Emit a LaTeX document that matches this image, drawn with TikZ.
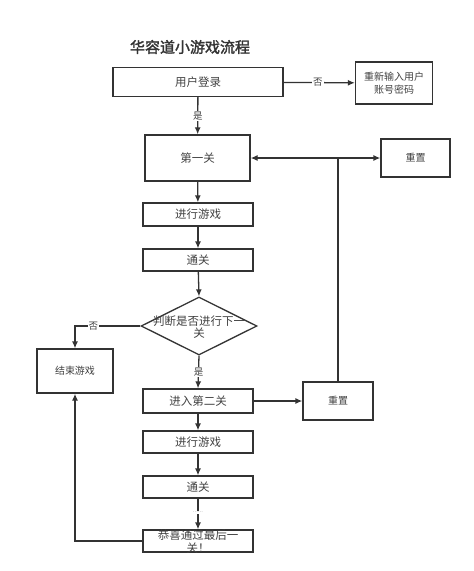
\documentclass[tikz,border=0pt]{standalone}
\usepackage{fontspec}
\setmainfont{Noto Sans CJK SC}
\newfontfamily\titlefont[FakeBold=2]{Noto Sans CJK SC}
\usetikzlibrary{shapes.geometric,arrows.meta}
\definecolor{linec}{HTML}{333333}
\definecolor{textc}{HTML}{404040}
\begin{document}
\begin{tikzpicture}[x=1pt,y=-1pt,
  box/.style={draw=linec, line width=1.3pt, rectangle, inner sep=0pt, text=textc, font=\fontsize{11.5}{13}\selectfont, align=center},
  dia/.style={draw=linec, line width=1.3pt, diamond, inner sep=0pt, minimum width=116pt, minimum height=58pt},
  txt/.style={text=textc, font=\fontsize{11.5}{13}\selectfont, align=center, inner sep=0pt},
  arr/.style={draw=linec, line width=1.3pt, -{Latex[length=7pt,width=6pt]}},
  ln/.style={draw=linec, line width=1.3pt},
  lbl/.style={fill=white, text=textc, font=\fontsize{9.5}{10}\selectfont, inner sep=1pt}]
\path[use as bounding box] (0,0) rectangle (474,571);

\node[text=black!80, font=\titlefont\fontsize{15}{17}\selectfont] (title) at (190,47) {华容道小游戏流程};

\node[box, minimum width=170pt, minimum height=29pt] (login) at (198,82) {用户登录};
\node[box, minimum width=77pt, minimum height=42pt, font=\fontsize{10}{12.5}\selectfont] (reinput) at (394,83) {重新输入用户\\账号密码};
\node[box, minimum width=105pt, minimum height=46pt] (first) at (197.5,158) {第一关};
\node[box, minimum width=69pt, minimum height=38pt, font=\fontsize{10}{12}\selectfont] (reset1) at (415.5,158) {重置};
\node[box, minimum width=110pt, minimum height=23pt] (play1) at (198,214.5) {进行游戏};
\node[box, minimum width=110pt, minimum height=22pt] (pass1) at (198,260) {通关};
\node[dia] (judge) at (199,326) {};
\node[txt, font=\fontsize{11.5}{11.5}\selectfont] (judget) at (199,327) {判断是否进行下一\\关};
\node[box, minimum width=76pt, minimum height=44pt, font=\fontsize{10}{12}\selectfont] (end) at (75,371) {结束游戏};
\node[box, minimum width=110pt, minimum height=24pt] (second) at (198,401) {进入第二关};
\node[box, minimum width=70pt, minimum height=38pt, font=\fontsize{10}{12}\selectfont] (reset2) at (338,401) {重置};
\node[box, minimum width=110pt, minimum height=22pt] (play2) at (198,442) {进行游戏};
\node[box, minimum width=110pt, minimum height=22pt] (pass2) at (198,487) {通关};
\node[box, minimum width=110pt, minimum height=22pt] (congrats) at (198,541) {};
\node[txt] (congratst) at (198,541.5) {恭喜通过最后一\\关！};

\draw[arr] (login) -- node[lbl] {是} (first);
\draw[arr] (login) -- node[lbl, pos=0.48] {否} (reinput);
\coordinate (jn) at (reset2.north |- first.east);
\draw[ln] (reset2.north) -- (jn);
\draw[arr] (jn) -- (first.east);
\draw[arr] (jn) -- (reset1.west);
\draw[arr] (first) -- (play1);
\draw[arr] (play1) -- (pass1);
\draw[arr] (pass1) -- (judge.north);
\draw[arr] (judge.west) -| node[lbl, pos=0.36] {否} (end.north);
\draw[arr] (judge.south) -- node[lbl] {是} (second.north);
\draw[arr] (second) -- (reset2);
\draw[arr] (second) -- (play2);
\draw[arr] (play2) -- (pass2);
\draw[arr] (pass2) -- node[fill=white, text=black!35, font=\fontsize{6}{6}\selectfont, inner sep=1.5pt, pos=0.45] {......} (congrats);
\draw[arr] (congrats.west) -| (end.south);
\end{tikzpicture}
\end{document}
